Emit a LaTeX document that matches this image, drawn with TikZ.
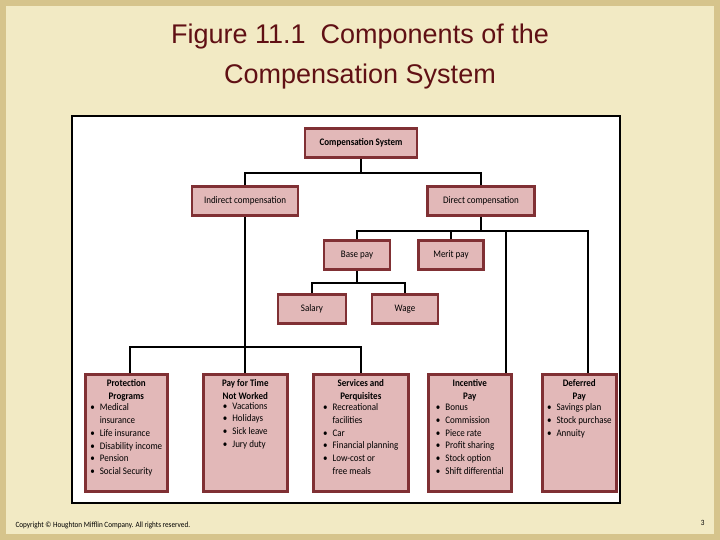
\documentclass[tikz,border=0pt]{standalone}
\usepackage{fontspec}
\setmainfont{Carlito}[FakeStretch=0.9]
\newfontfamily\titlefont{Liberation Sans}
\definecolor{bg}{RGB}{242,234,196}
\definecolor{bgedge}{RGB}{214,196,140}
\definecolor{boxfill}{RGB}{226,184,184}
\definecolor{boxline}{RGB}{128,48,52}
\definecolor{titlec}{RGB}{96,16,20}
\tikzset{
  box/.style={draw=boxline, line width=2.6pt, fill=boxfill, minimum height=29pt, inner sep=2pt, font=\fontsize{10}{11}\selectfont},
  bigbox/.style={box, anchor=north west, minimum height=117pt},
  btext/.style={anchor=north, inner sep=0pt, align=center, font=\fontsize{10}{12.8}\selectfont},
  conn/.style={line width=1.8pt, black},
}
\newcommand{\blist}[1]{\begin{tabular}{@{}l@{\hspace{5pt}}l@{}}#1\end{tabular}}
\begin{document}
\begin{tikzpicture}[x=1pt,y=-1pt]
\useasboundingbox (0,0) rectangle (720,540);
\fill[bgedge] (0,0) rectangle (720,540);
\fill[bg] (6,6) rectangle (714,534);
\node[font=\titlefont\fontsize{27}{40}\selectfont, text=titlec, align=center] (title) at (360,57) {Figure 11.1\ \ Components of the\\Compensation System};
\draw[line width=1.3pt, fill=white] (72,116) rectangle (620,503);
\node[box, minimum width=112pt, font=\bfseries\fontsize{10}{11}\selectfont] (cs) at (361,143) {Compensation System};
\node[box, minimum width=106pt] (ind) at (245,201) {Indirect compensation};
\node[box, minimum width=107pt] (dir) at (481,201) {Direct compensation};
\node[box, minimum width=66pt] (base) at (357,255) {Base pay};
\node[box, minimum width=65pt] (merit) at (451,255) {Merit pay};
\node[box, minimum width=68pt] (sal) at (312,309) {Salary};
\node[box, minimum width=66pt] (wage) at (405,309) {Wage};
\node[bigbox, minimum width=82pt] (prot) at (84,373) {};
\node[bigbox, minimum width=84pt] (ptime) at (202,373) {};
\node[bigbox, minimum width=95pt] (serv) at (312,373) {};
\node[bigbox, minimum width=83pt] (inc) at (427,373) {};
\node[bigbox, minimum width=74pt] (def) at (541,373) {};
\node[btext] (tprot) at ([yshift=-6pt]prot.north) {\textbf{Protection}\\\textbf{Programs}\\
\blist{•&Medical\\&insurance\\•&Life insurance\\•&Disability income\\•&Pension\\•&Social Security}};
\node[btext] (tptime) at ([yshift=-6pt]ptime.north) {\textbf{Pay for Time}\\\textbf{Not Worked}\\
\blist{•&Vacations\\•&Holidays\\•&Sick leave\\•&Jury duty\\&\\&}};
\node[btext] (tserv) at ([yshift=-6pt]serv.north) {\textbf{Services and}\\\textbf{Perquisites}\\
\blist{•&Recreational\\&facilities\\•&Car\\•&Financial planning\\•&Low-cost or\\&free meals}};
\node[btext] (tinc) at ([yshift=-6pt]inc.north) {\textbf{Incentive}\\\textbf{Pay}\\
\blist{•&Bonus\\•&Commission\\•&Piece rate\\•&Profit sharing\\•&Stock option\\•&Shift differential}};
\node[btext] (tdef) at ([yshift=-6pt]def.north) {\textbf{Deferred}\\\textbf{Pay}\\
\blist{•&Savings plan\\•&Stock purchase\\•&Annuity\\&\\&\\&}};
% connectors
\draw[conn] (cs.south) -- (361,173) coordinate (j1);
\draw[conn] (ind.north) |- (j1) -| (dir.north);
\draw[conn] (dir.south) -- (481,231) coordinate (j2);
\draw[conn] (base.north) |- (j2) -| (588,373);
\draw[conn] (merit.north) -- (merit.north |- j2);
\draw[conn] (506,231) -- (506,373);
\draw[conn] (base.south) -- (357,283) coordinate (j3);
\draw[conn] (sal.north) |- (j3) -| (wage.north);
\draw[conn] (ind.south) -- (245,347) coordinate (j4);
\draw[conn] (130,373) |- (j4) -| (361,373);
\draw[conn] (245,347) -- (245,373);
\node[anchor=west, font=\fontsize{8}{9}\selectfont] (copy) at (12,525) {Copyright © Houghton Mifflin Company. All rights reserved.};
\node[anchor=east, font=\fontsize{8}{9}\selectfont] (pg) at (708,523) {3};
\end{tikzpicture}
\end{document}
